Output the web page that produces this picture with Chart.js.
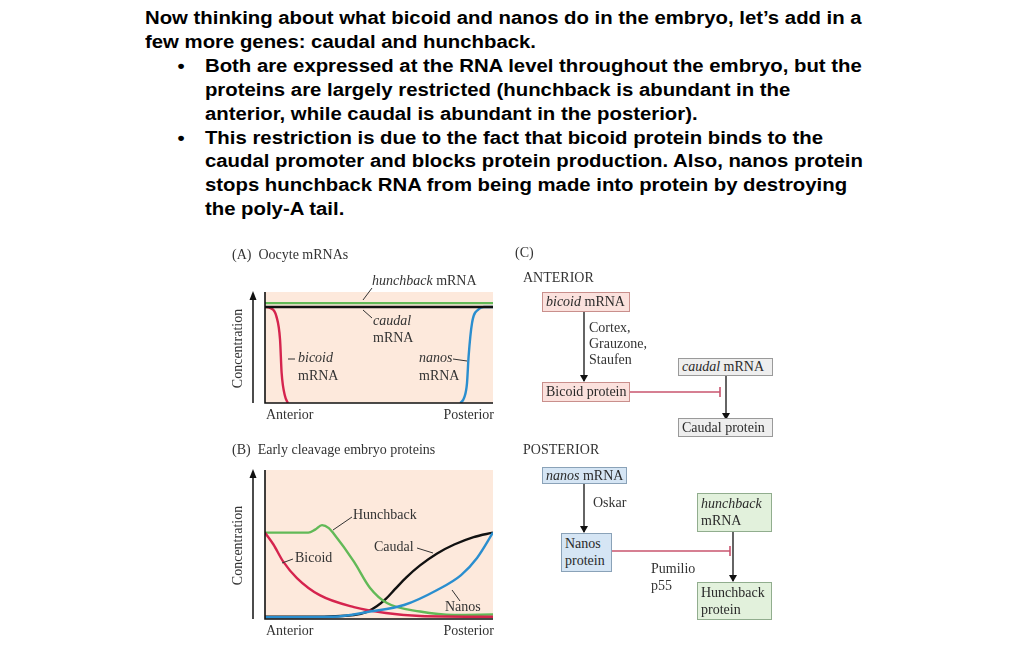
<!DOCTYPE html>
<html lang="en">
<head>
<meta charset="utf-8">
<title>caudal and hunchback</title>
<script src="https://cdn.jsdelivr.net/npm/chart.js@4.4.1/dist/chart.umd.min.js"></script>
<style>
  html, body { margin: 0; padding: 0; background: #fff; }
  body { width: 1024px; height: 669px; position: relative; overflow: hidden; }
  #slide { position: absolute; left: 145px; top: 7px; font-family: "Liberation Sans", Arial, sans-serif;
           font-weight: bold; font-size: 17.5px; line-height: 23.9px; color: #000; white-space: nowrap;
           transform: scaleX(1.162); transform-origin: 0 0; }
  #slide ul { margin: 0; padding: 0; list-style: none; }
  #slide li { position: relative; padding-left: 51.6px; }
  #slide li::before { content: "\2022"; position: absolute; left: 28px; }
  .cv { position: absolute; }
  .fig { position: absolute; font-family: "Liberation Serif", "DejaVu Serif", serif; font-size: 14px; color: #333; white-space: nowrap; line-height: 16px; }
  .box { position: absolute; box-sizing: border-box; font-family: "Liberation Serif", serif; font-size: 14px; color: #2a2a2a;
         line-height: 17px; padding: 1px 3px; white-space: nowrap; }
  .pink { background: #fbe1dd; border: 1px solid #c98f8c; }
  .grey { background: #eeeeee; border: 1px solid #9a9a9a; }
  .blue { background: #d5e5f4; border: 1px solid #8aa2b8; }
  .green { background: #e2f1dc; border: 1px solid #91ad8e; }
  svg { position: absolute; left: 0; top: 0; }
</style>
</head>
<body>

<div id="slide">
  Now thinking about what bicoid and nanos do in the embryo, let’s add in a<br>
  few more genes: caudal and hunchback.
  <ul>
    <li>Both are expressed at the RNA level throughout the embryo, but the<br>
        proteins are largely restricted (hunchback is abundant in the<br>
        anterior, while caudal is abundant in the posterior).</li>
    <li>This restriction is due to the fact that bicoid protein binds to the<br>
        caudal promoter and blocks protein production. Also, nanos protein<br>
        stops hunchback RNA from being made into protein by destroying<br>
        the poly-A tail.</li>
  </ul>
</div>

<canvas id="chartA" class="cv" style="left:225px; top:240px; width:280px; height:190px;" width="280" height="190"></canvas>
<canvas id="chartB" class="cv" style="left:225px; top:435px; width:280px; height:210px;" width="280" height="210"></canvas>

<!-- panel C -->
<svg width="1024" height="669">
  <defs>
    <marker id="ah" markerWidth="8" markerHeight="8" refX="6" refY="4" orient="auto" markerUnits="userSpaceOnUse">
      <path d="M0,0 L7,4 L0,8 z" fill="#111"/>
    </marker>
  </defs>
  <line x1="584" y1="312" x2="584" y2="381" stroke="#111" stroke-width="1.3" marker-end="url(#ah)"/>
  <line x1="630" y1="392" x2="720" y2="392" stroke="#c9546e" stroke-width="1.6"/>
  <line x1="720" y1="387" x2="720" y2="397" stroke="#c9546e" stroke-width="1.6"/>
  <line x1="726" y1="375" x2="726" y2="419" stroke="#111" stroke-width="1.3" marker-end="url(#ah)"/>
  <line x1="584" y1="483" x2="584" y2="532" stroke="#111" stroke-width="1.3" marker-end="url(#ah)"/>
  <line x1="612" y1="551" x2="730" y2="551" stroke="#c9546e" stroke-width="1.6"/>
  <line x1="730" y1="546" x2="730" y2="556" stroke="#c9546e" stroke-width="1.6"/>
  <line x1="733" y1="532" x2="733" y2="581" stroke="#111" stroke-width="1.3" marker-end="url(#ah)"/>
</svg>
<div class="fig" style="left:515px; top:245px;">(C)</div>
<div class="fig" style="left:523px; top:270px;">ANTERIOR</div>
<div class="box pink" style="left:542px; top:292px; width:88px; height:20px; line-height:16px;"><i>bicoid</i> mRNA</div>
<div class="fig" style="left:589px; top:320px;">Cortex,<br>Grauzone,<br>Staufen</div>
<div class="box pink" style="left:542px; top:382px; width:88px; height:20px; line-height:16px;">Bicoid protein</div>
<div class="box grey" style="left:678px; top:358px; width:95px; height:18px; line-height:14px;"><i>caudal</i> mRNA</div>
<div class="box grey" style="left:678px; top:418px; width:95px; height:19px; line-height:15px;">Caudal protein</div>
<div class="fig" style="left:523px; top:442px;">POSTERIOR</div>
<div class="box blue" style="left:542px; top:467px; width:85px; height:17px; line-height:13px;"><i>nanos</i> mRNA</div>
<div class="fig" style="left:593px; top:495px;">Oskar</div>
<div class="box blue" style="left:561px; top:533px; width:51px; height:39px;">Nanos<br>protein</div>
<div class="fig" style="left:651px; top:560px; line-height:17px;">Pumilio<br>p55</div>
<div class="box green" style="left:697px; top:493px; width:75px; height:39px;"><i>hunchback</i><br>mRNA</div>
<div class="box green" style="left:697px; top:582px; width:75px; height:38px;">Hunchback<br>protein</div>

<script>
// x = position along the embryo (0 anterior, 1 posterior), y = relative concentration
// (A) oocyte mRNAs
var hunchbackRnaX = [0, 1];
var hunchbackRnaY = [0.90, 0.90];
var caudalRnaX = [0, 1];
var caudalRnaY = [0.865, 0.865];
var bicoidRnaX = [0, 0.022, 0.05, 0.066, 0.073, 0.088, 0.10];
var bicoidRnaY = [0.865, 0.855, 0.78, 0.57, 0.27, 0.06, 0];
var nanosRnaX = [0.857, 0.874, 0.886, 0.893, 0.908, 0.937, 0.96, 1];
var nanosRnaY = [0, 0.05, 0.18, 0.42, 0.72, 0.845, 0.865, 0.865];

// (B) early cleavage embryo proteins
var hunchbackProtX = [0, 0.19, 0.22, 0.25, 0.28, 0.30, 0.39, 0.46, 0.535, 0.68, 0.83, 1];
var hunchbackProtY = [0.58, 0.58, 0.60, 0.63, 0.61, 0.575, 0.385, 0.21, 0.107, 0.05, 0.027, 0.03];
var bicoidProtX = [0, 0.037, 0.08, 0.14, 0.24, 0.39, 0.53, 0.68, 1];
var bicoidProtY = [0.58, 0.50, 0.385, 0.275, 0.16, 0.08, 0.04, 0.02, 0.015];
var caudalProtX = [0, 0.2, 0.39, 0.45, 0.49, 0.53, 0.57, 0.62, 0.68, 0.755, 0.83, 0.915, 1];
var caudalProtY = [0.015, 0.015, 0.027, 0.05, 0.085, 0.135, 0.20, 0.28, 0.36, 0.44, 0.50, 0.55, 0.58];
var nanosProtX = [0, 0.3, 0.46, 0.61, 0.755, 0.86, 0.93, 1];
var nanosProtY = [0.012, 0.015, 0.05, 0.094, 0.195, 0.295, 0.41, 0.58];

var axisLabels = ['Anterior', 'Posterior'];

var GREEN = '#62b957', RED = '#d5244e', BLUE = '#2a8ecf', BLACK = '#111111';
var SERIF = '"Liberation Serif", "DejaVu Serif", serif';

function pts(xs, ys) {
  return xs.map(function (x, i) { return {x: x, y: ys[i]}; });
}

function line(data, color) {
  return {data: data, borderColor: color, borderWidth: 2.4, pointRadius: 0,
          cubicInterpolationMode: 'monotone', fill: false};
}

// background, axes, arrow and labels, drawn in page coordinates
function panelPlugin(offX, offY, title, titleY, texts, leaders) {
  return {
    id: 'panel',
    beforeDatasetsDraw: function (chart) {
      var a = chart.chartArea, ctx = chart.ctx;
      ctx.save();
      ctx.fillStyle = '#fde9dc';
      ctx.fillRect(a.left, a.top, a.right - a.left, a.bottom - a.top);
      ctx.restore();
    },
    afterDraw: function (chart) {
      var a = chart.chartArea, ctx = chart.ctx;
      ctx.save();
      // frame: left and bottom
      ctx.strokeStyle = '#111';
      ctx.lineWidth = 1.6;
      ctx.beginPath();
      ctx.moveTo(a.left, a.top); ctx.lineTo(a.left, a.bottom); ctx.lineTo(a.right, a.bottom);
      ctx.stroke();
      // concentration arrow
      var ax = a.left - 12;
      ctx.lineWidth = 1.5;
      ctx.beginPath(); ctx.moveTo(ax, a.bottom); ctx.lineTo(ax, a.top + 6); ctx.stroke();
      ctx.fillStyle = '#111';
      ctx.beginPath(); ctx.moveTo(ax, a.top - 1); ctx.lineTo(ax - 3.5, a.top + 8); ctx.lineTo(ax + 3.5, a.top + 8); ctx.fill();

      ctx.fillStyle = '#333';
      ctx.textBaseline = 'middle';
      ctx.font = '14px ' + SERIF;
      ctx.save();
      ctx.translate(ax - 15, (a.top + a.bottom) / 2 + 1);
      ctx.rotate(-Math.PI / 2);
      ctx.textAlign = 'center';
      ctx.fillText('Concentration', 0, 0);
      ctx.restore();

      ctx.font = '14px ' + SERIF;
      var xs = chart.scales.x;
      ctx.textAlign = 'left';
      ctx.fillText(axisLabels[0], xs.getPixelForValue(0) + 1, a.bottom + 12);
      ctx.textAlign = 'right';
      ctx.fillText(axisLabels[1], xs.getPixelForValue(1) + 1, a.bottom + 12);

      ctx.translate(-offX, -offY);
      ctx.textAlign = 'left';
      ctx.font = '14px ' + SERIF;
      ctx.fillText(title, 232, titleY);

      texts.forEach(function (t) {
        var x = t[0];
        t[2].forEach(function (part) {
          ctx.font = (part[1] ? 'italic ' : '') + '14px ' + SERIF;
          ctx.fillText(part[0], x, t[1]);
          x += ctx.measureText(part[0]).width;
        });
      });
      ctx.strokeStyle = '#333';
      ctx.lineWidth = 1;
      leaders.forEach(function (l) {
        ctx.beginPath(); ctx.moveTo(l[0], l[1]); ctx.lineTo(l[2], l[3]); ctx.stroke();
      });
      ctx.restore();
    }
  };
}

function options(pad) {
  return {
    responsive: false, animation: false,
    layout: {padding: pad},
    plugins: {legend: {display: false}, tooltip: {enabled: false}},
    scales: {
      x: {type: 'linear', min: 0, max: 1, display: false},
      y: {type: 'linear', min: 0, max: 1, display: false}
    }
  };
}

new Chart(document.getElementById('chartA'), {
  type: 'line',
  data: {datasets: [
    line(pts(hunchbackRnaX, hunchbackRnaY), GREEN),
    line(pts(caudalRnaX, caudalRnaY), BLACK),
    line(pts(bicoidRnaX, bicoidRnaY), RED),
    line(pts(nanosRnaX, nanosRnaY), BLUE)
  ]},
  options: options({left: 40, top: 52, right: 12, bottom: 27}),
  plugins: [panelPlugin(225, 240, '(A)  Oocyte mRNAs', 255, [
    [372, 281, [['hunchback', true], [' mRNA', false]]],
    [373, 321, [['caudal', true]]],
    [373, 338, [['mRNA', false]]],
    [298, 358, [['bicoid', true]]],
    [298, 376, [['mRNA', false]]],
    [419, 358, [['nanos', true]]],
    [419, 376, [['mRNA', false]]]
  ], [
    [363, 300, 372, 288], [363, 310, 372, 318], [288, 359, 295, 359], [453, 359, 467, 361]
  ])]
});

new Chart(document.getElementById('chartB'), {
  type: 'line',
  data: {datasets: [
    line(pts(nanosProtX, nanosProtY), BLUE),
    line(pts(bicoidProtX, bicoidProtY), RED),
    line(pts(hunchbackProtX, hunchbackProtY), GREEN),
    line(pts(caudalProtX, caudalProtY), BLACK)
  ]},
  options: options({left: 40, top: 35, right: 12, bottom: 26}),
  plugins: [panelPlugin(225, 435, '(B)  Early cleavage embryo proteins', 450, [
    [353, 515, [['Hunchback', false]]],
    [374, 547, [['Caudal', false]]],
    [295, 558, [['Bicoid', false]]],
    [445, 607, [['Nanos', false]]]
  ], [
    [333, 530, 352, 517], [417, 548, 433, 553], [282, 563, 293, 559], [452, 590, 460, 601]
  ])]
});
</script>
</body>
</html>
